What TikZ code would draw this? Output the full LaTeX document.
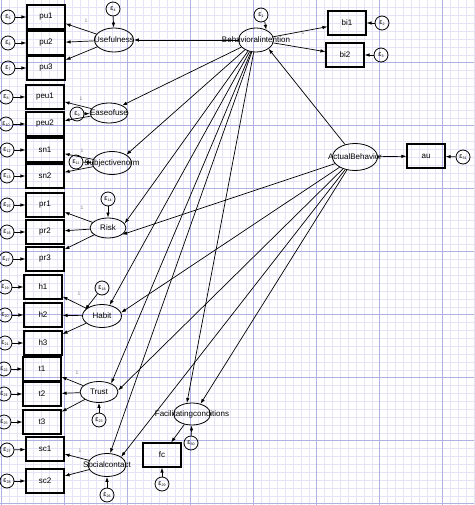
\documentclass[tikz,border=0pt]{standalone}
\usepackage{fontspec}
\setmainfont{Liberation Sans}
\usetikzlibrary{arrows.meta,shapes.geometric}
\newcommand{\errlab}[1]{ε\raisebox{-1pt}{\fontsize{3.6}{4}\selectfont #1}}
\newcommand{\lt}[1]{\makebox[0pt]{#1}}
\begin{document}
\begin{tikzpicture}[x=1pt,y=-1pt,
  obs/.style={draw, line width=1.1pt, minimum width=38pt, minimum height=24pt, inner sep=0pt, font=\fontsize{8}{9}\selectfont},
  lat/.style={draw, ellipse, line width=0.8pt, inner sep=0pt, font=\fontsize{8}{9}\selectfont},
  err/.style={draw, circle, line width=0.8pt, minimum size=14pt, inner sep=0pt, font=\fontsize{7}{7}\selectfont},
  arr/.style={-{Latex[length=5pt,width=3.5pt]}, line width=0.7pt},
  one/.style={font=\fontsize{5}{5}\selectfont, text=gray, inner sep=0pt},
  minorgrid/.style={draw={rgb,255:red,228;green,228;blue,246}, line width=0.6pt},
  majorgrid/.style={draw={rgb,255:red,176;green,176;blue,226}, line width=0.8pt}]
\useasboundingbox (0,0) rectangle (474,505);
\fill[white] (0,0) rectangle (474,505);
% grid
\foreach \k in {0,...,60} {\pgfmathsetmacro\xx{1.7+7.875*\k}\draw[minorgrid] (\xx,0) -- (\xx,505);}
\foreach \k in {1,...,64} {\pgfmathsetmacro\yy{-0.3+7.875*\k}\draw[minorgrid] (0,\yy) -- (474,\yy);}
\foreach \k in {0,8,...,56} {\pgfmathsetmacro\xx{1.7+7.875*\k}\draw[majorgrid] (\xx,0) -- (\xx,505);}
\foreach \k in {8,16,...,64} {\pgfmathsetmacro\yy{-0.3+7.875*\k}\draw[majorgrid] (0,\yy) -- (474,\yy);}

% observed boxes
\node[obs] (pu1) at (46,17) {pu1};
\node[obs] (pu2) at (46,43) {pu2};
\node[obs] (pu3) at (46,68) {pu3};
\node[obs] (peu1) at (45,97) {peu1};
\node[obs] (peu2) at (45,124) {peu2};
\node[obs] (sn1) at (45,150) {sn1};
\node[obs] (sn2) at (45,176) {sn2};
\node[obs] (pr1) at (45,205) {pr1};
\node[obs] (pr2) at (45,232) {pr2};
\node[obs] (pr3) at (45,259) {pr3};
\node[obs] (h1) at (43,287) {h1};
\node[obs] (h2) at (43,315) {h2};
\node[obs] (h3) at (43,343) {h3};
\node[obs] (t1) at (42,369) {t1};
\node[obs] (t2) at (42,394) {t2};
\node[obs] (t3) at (42,422) {t3};
\node[obs] (sc1) at (45,449) {sc1};
\node[obs] (sc2) at (45,481) {sc2};
\node[obs] (bi1) at (347,23) {bi1};
\node[obs] (bi2) at (345,55) {bi2};
\node[obs] (au) at (426,156) {au};
\node[obs] (fc) at (162,455) {fc};

% latent ellipses
\node[lat, minimum width=39pt, minimum height=24pt] (Use) at (114,40) {\lt{Usefulness}};
\node[lat, minimum width=38pt, minimum height=20pt] (Ease) at (109,113) {\lt{Easeofuse}};
\node[lat, minimum width=39pt, minimum height=23pt] (Subj) at (112,163) {\lt{Subjectivenorm}};
\node[lat, minimum width=36pt, minimum height=20pt] (Risk) at (108,228) {\lt{Risk}};
\node[lat, minimum width=39pt, minimum height=23pt] (Habit) at (102,316) {\lt{Habit}};
\node[lat, minimum width=38pt, minimum height=21pt] (Trust) at (99,392) {\lt{Trust}};
\node[lat, minimum width=38pt, minimum height=23pt] (Social) at (107,465) {\lt{Socialcontact}};
\node[lat, minimum width=35pt, minimum height=24pt] (BI) at (256,40) {\lt{Behavioralintention}};
\node[lat, minimum width=45pt, minimum height=27pt] (AB) at (355,157) {\lt{ActualBehavior}};
\node[lat, minimum width=37pt, minimum height=22pt] (FC) at (192,414) {\lt{Facilitatingconditions}};

% error circles
\node[err] (e1) at (261,15) {\errlab{1}};
\node[err] (e2) at (382,23) {\errlab{2}};
\node[err] (e3) at (381,55) {\errlab{3}};
\node[err] (e4) at (113,9) {\errlab{4}};
\node[err] (e5) at (8,17) {\errlab{5}};
\node[err] (e6) at (8,43) {\errlab{6}};
\node[err] (e7) at (8,68) {\errlab{7}};
\node[err] (e8) at (6,97) {\errlab{8}};
\node[err] (e9) at (77,114) {\errlab{9}};
\node[err] (e10) at (6,124) {\errlab{10}};
\node[err] (e11) at (76,162) {\errlab{11}};
\node[err] (e12) at (7,150) {\errlab{12}};
\node[err] (e13) at (7,176) {\errlab{13}};
\node[err] (e14) at (108,199) {\errlab{14}};
\node[err] (e15) at (7,205) {\errlab{15}};
\node[err] (e16) at (7,232) {\errlab{16}};
\node[err] (e17) at (6,259) {\errlab{17}};
\node[err] (e18) at (102,288) {\errlab{18}};
\node[err] (e19) at (5,287) {\errlab{19}};
\node[err] (e20) at (5,315) {\errlab{20}};
\node[err] (e21) at (5,343) {\errlab{21}};
\node[err] (e22) at (4,369) {\errlab{22}};
\node[err] (e23) at (99,420) {\errlab{23}};
\node[err] (e24) at (4,394) {\errlab{24}};
\node[err] (e25) at (4,422) {\errlab{25}};
\node[err] (e26) at (107,495) {\errlab{26}};
\node[err] (e27) at (7,450) {\errlab{27}};
\node[err] (e28) at (7,481) {\errlab{28}};
\node[err] (e29) at (162,484) {\errlab{29}};
\node[err] (e30) at (191,443) {\errlab{30}};
\node[err] (e31) at (463,157) {\errlab{31}};

% error arrows
\foreach \e/\b in {e5/pu1,e6/pu2,e7/pu3,e8/peu1,e10/peu2,e12/sn1,e13/sn2,e15/pr1,e16/pr2,e17/pr3,e19/h1,e20/h2,e21/h3,e22/t1,e24/t2,e25/t3,e27/sc1,e28/sc2,e2/bi1,e3/bi2,e31/au,e29/fc}
  {\draw[arr] (\e) -- (\b);}
\draw[arr] (e4) -- (Use);
\draw[arr] (e9) -- (Ease);
\draw[arr] (e11) -- (Subj);
\draw[arr] (e14) -- (Risk);
\draw[arr] (e18) -- (Habit.160);
\draw[arr] (e23) -- (Trust);
\draw[arr] (e26) -- (Social);
\draw[arr] (e30) -- (FC);
\draw[arr] (e1.-60) -- (BI.45);

% loadings
\foreach \l/\b in {Use/pu1,Use/pu2,Use/pu3,Ease/peu1,Ease/peu2,Subj/sn1,Subj/sn2,Risk/pr1,Risk/pr2,Risk/pr3,Habit/h1,Habit/h2,Habit/h3,Trust/t1,Trust/t2,Trust/t3,Social/sc1,Social/sc2,BI/bi1,BI/bi2,AB/au,FC/fc}
  {\draw[arr] (\l) -- (\b);}

% structural paths
\draw[arr] (BI) -- (Use.0);
\draw[arr] (BI) -- (Ease.30);
\draw[arr] (BI) -- (Subj.30);
\draw[arr] (BI) -- (Risk.15);
\draw[arr] (BI) -- (Habit.55);
\draw[arr] (BI) -- (Trust.35);
\draw[arr] (BI) -- (Social.75);
\draw[arr] (BI) -- (FC.115);
\draw[arr] (AB) -- (BI.-35);
\draw[arr] (AB) -- (Risk.-25);
\draw[arr] (AB) -- (Habit.10);
\draw[arr] (AB) -- (Trust.5);
\draw[arr] (AB) -- (Social.30);
\draw[arr] (AB) -- (FC.50);

% labels "1"
\node[one] (l1) at (86,21) {1};
\node[one] (l2) at (81,99) {1};
\node[one] (l3) at (82,151) {1};
\node[one] (l4) at (82,208) {1};
\node[one] (l5) at (79,294) {1};
\node[one] (l6) at (77,373) {1};
\node[one] (l7) at (80,451) {1};
\node[one] (l8) at (303,33) {1};
\end{tikzpicture}
\end{document}
